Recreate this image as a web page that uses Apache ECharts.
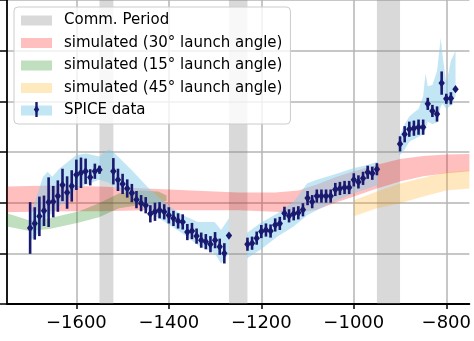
<!DOCTYPE html>
<html>
<head>
<meta charset="utf-8">
<script src="https://cdn.jsdelivr.net/npm/echarts@6/dist/echarts.min.js"></script>
<style>
  html, body { margin: 0; padding: 0; background: #fff; }
  #chart { width: 474px; height: 341px; }
</style>
</head>
<body>
<div id="chart"></div>
<script>
// Communication blackout windows (x ranges)
const commPeriods = [[-1550, -1520], [-1270, -1230], [-950, -900]];

// Simulated envelopes: x, lower edge, upper edge
const sim30X    = [-1750, -1650, -1550, -1450, -1350, -1250, -1170, -1120, -1080, -1040, -1000, -950, -900, -850, -800, -750];
const sim30Low  = [1.81, 1.83, 1.83, 1.85, 1.85, 1.85, 1.82, 1.80, 1.86, 2.00, 2.12, 2.28, 2.42, 2.52, 2.58, 2.62];
const sim30High = [2.32, 2.34, 2.32, 2.28, 2.24, 2.20, 2.20, 2.24, 2.36, 2.50, 2.62, 2.75, 2.86, 2.92, 2.95, 2.96];

const sim15X    = [-1750, -1701, -1658, -1594, -1551, -1508, -1465, -1423, -1405];
const sim15Low  = [1.53, 1.44, 1.48, 1.61, 1.71, 1.89, 1.95, 1.99, 2.04];
const sim15High = [1.79, 1.65, 1.69, 1.83, 1.99, 2.18, 2.24, 2.22, 2.14];

const sim45X    = [-1000, -950, -900, -850, -800, -750];
const sim45Low  = [1.73, 1.89, 1.99, 2.12, 2.24, 2.28];
const sim45High = [2.05, 2.22, 2.38, 2.49, 2.60, 2.64];

// SPICE uncertainty envelope, one list per continuous stretch
const bandAX    = [-1700, -1686, -1672, -1662, -1652, -1636, -1622, -1600, -1579, -1551, -1530, -1520, -1480, -1444, -1408, -1372, -1337, -1301, -1287, -1270];
const bandALow  = [1.25, 1.35, 1.55, 1.75, 1.78, 1.95, 2.00, 2.30, 2.35, 2.45, 2.40, 2.32, 2.12, 1.82, 1.62, 1.40, 1.16, 1.00, 0.80, 1.00];
const bandAHigh = [1.75, 2.12, 2.51, 2.61, 2.51, 2.68, 2.78, 2.94, 2.97, 2.91, 3.05, 3.00, 2.64, 2.29, 1.99, 1.76, 1.62, 1.62, 1.46, 1.69];

const bandBX    = [-1231, -1202, -1165, -1130, -1101, -1080, -1044, -1001, -973, -948];
const bandBLow  = [0.90, 1.07, 1.33, 1.53, 1.75, 1.85, 2.02, 2.18, 2.27, 2.35];
const bandBHigh = [1.40, 1.60, 1.79, 2.02, 2.38, 2.45, 2.55, 2.68, 2.74, 2.81];

const bandCX    = [-902, -890, -880, -870, -860, -850, -845, -840, -830, -820, -812, -808, -800, -790, -780];
const bandCLow  = [2.92, 3.05, 3.20, 3.25, 3.30, 3.35, 3.45, 3.60, 3.55, 3.58, 3.90, 3.95, 3.85, 3.92, 4.10];
const bandCHigh = [3.30, 3.55, 3.70, 3.78, 3.85, 4.10, 4.55, 4.30, 4.32, 4.60, 5.25, 4.90, 4.35, 4.80, 5.00];

// SPICE measurements with error bars (0 = no bar)
const spiceX = [
  -1700, -1690, -1680, -1670, -1660, -1650, -1640, -1630, -1620, -1610, -1600, -1590, -1580, -1570, -1560, -1550,
  -1520, -1510, -1500, -1490, -1480, -1470, -1460, -1450, -1440, -1430, -1420, -1410, -1400, -1390, -1380, -1370,
  -1360, -1350, -1340, -1330, -1320, -1310, -1300, -1290, -1280, -1270,
  -1230, -1220, -1210, -1200, -1190, -1180, -1170, -1160, -1150, -1140, -1130, -1120, -1110, -1100, -1090, -1080,
  -1070, -1060, -1050, -1040, -1030, -1020, -1010, -1000, -990, -980, -970, -960, -950,
  -900, -890, -880, -870, -860, -850, -840, -830, -820, -810, -800, -790, -780
];
const spiceY = [
  1.50, 1.59, 1.73, 1.84, 2.01, 2.02, 2.13, 2.35, 2.20, 2.33, 2.55, 2.59, 2.62, 2.50, 2.62, 2.65,
  2.62, 2.45, 2.37, 2.28, 2.19, 2.06, 1.99, 1.95, 1.78, 1.82, 1.85, 1.82, 1.75, 1.69, 1.64, 1.62,
  1.42, 1.44, 1.34, 1.26, 1.23, 1.18, 1.26, 1.13, 1.00, 1.35,
  1.18, 1.20, 1.30, 1.43, 1.46, 1.44, 1.56, 1.59, 1.79, 1.74, 1.78, 1.80, 1.86, 2.09, 2.02, 2.13,
  2.13, 2.13, 2.13, 2.26, 2.28, 2.30, 2.30, 2.45, 2.41, 2.48, 2.60, 2.58, 2.66,
  3.16, 3.35, 3.45, 3.47, 3.49, 3.49, 3.95, 3.81, 3.75, 4.36, 4.05, 4.06, 4.24
];
const spiceErr = [
  0.51, 0.32, 0.39, 0.30, 0.49, 0.31, 0.31, 0.32, 0.32, 0.31, 0.30, 0.30, 0.25, 0.16, 0.15, 0.08,
  0.26, 0.22, 0.20, 0.18, 0.18, 0.17, 0.16, 0.16, 0.17, 0.18, 0.16, 0.15, 0.16, 0.15, 0.15, 0.15,
  0.16, 0.16, 0.15, 0.15, 0.15, 0.16, 0.16, 0.16, 0.20, 0,
  0.13, 0.13, 0.13, 0.13, 0.13, 0.13, 0.13, 0.13, 0.13, 0.13, 0.13, 0.13, 0.13, 0.14, 0.13, 0.13,
  0.13, 0.13, 0.13, 0.13, 0.13, 0.13, 0.13, 0.13, 0.13, 0.13, 0.13, 0.13, 0.12,
  0.15, 0.16, 0.15, 0.15, 0.15, 0.15, 0.12, 0.12, 0.15, 0.23, 0.10, 0.12, 0
];

const xTicks = [-1600, -1400, -1200, -1000, -800];

const COLORS = {
  comm: 'rgba(128,128,128,0.3)',
  sim30: 'rgba(255,0,0,0.25)',
  sim15: 'rgba(0,128,0,0.25)',
  sim45: 'rgba(255,165,0,0.25)',
  spiceBand: 'rgba(135,206,235,0.5)',
  spice: '#191970'
};

const zipRows = (xs, lo, hi) => xs.map((x, i) => [x, lo[i], hi[i]]);

// One filled polygon per envelope, drawn through the axis scales
function envelopeSeries(name, rows, color, z) {
  return {
    type: 'custom',
    name: name,
    coordinateSystem: 'cartesian2d',
    data: rows,
    encode: { x: 0, y: [1, 2] },
    itemStyle: { color: color },
    silent: true,
    z: z,
    renderItem: function (params, api) {
      if (params.dataIndex !== 0) return;
      const upper = rows.map(r => api.coord([r[0], r[2]]));
      const lower = rows.map(r => api.coord([r[0], r[1]])).reverse();
      return {
        type: 'polygon',
        shape: { points: upper.concat(lower) },
        style: { fill: color }
      };
    }
  };
}

const spiceRows = spiceX.map((x, i) => [x, spiceY[i], spiceErr[i]]);

const chart = echarts.init(document.getElementById('chart'), null, { renderer: 'canvas' });

const fmt = v => (v < 0 ? '\u2212' : '') + Math.abs(v);

chart.setOption({
  animation: false,
  backgroundColor: '#fff',
  grid: { left: 7, right: 0, top: -1, bottom: 37, containLabel: false },
  xAxis: {
    type: 'value',
    min: -1750,
    max: -750,
    axisLine: { show: true, onZero: false, lineStyle: { color: '#000', width: 1.8 } },
    axisTick: { show: true, length: 5, customValues: xTicks, lineStyle: { color: '#000', width: 1.5 } },
    axisLabel: {
      customValues: xTicks,
      formatter: fmt,
      fontFamily: 'DejaVu Sans',
      fontSize: 18,
      color: '#000',
      margin: 10
    },
    splitLine: { show: true, lineStyle: { color: '#b4b4b4', width: 1.5 } }
  },
  yAxis: {
    type: 'value',
    min: 0,
    max: 6,
    interval: 1,
    axisLine: { show: true, onZero: false, lineStyle: { color: '#000', width: 1.8 } },
    axisTick: { show: true, length: 7, lineStyle: { color: '#000', width: 1.5 } },
    axisLabel: { show: false },
    splitLine: { show: true, lineStyle: { color: '#b4b4b4', width: 1.5 } }
  },
  legend: {
    orient: 'vertical',
    left: 14,
    top: 7,
    padding: [6, 8, 6, 7],
    itemGap: 7.5,
    itemWidth: 31,
    itemHeight: 10,
    backgroundColor: 'rgba(255,255,255,0.8)',
    borderColor: '#cccccc',
    borderWidth: 1,
    borderRadius: 4,
    selectedMode: false,
    textStyle: { fontFamily: 'DejaVu Sans', fontSize: 15, color: '#000', padding: [0, 0, 0, 7] },
    data: [
      { name: 'Comm. Period', icon: 'rect', itemStyle: { color: '#d9d9d9' } },
      { name: 'simulated (30° launch angle)', icon: 'rect', itemStyle: { color: '#ffbfbf' } },
      { name: 'simulated (15° launch angle)', icon: 'rect', itemStyle: { color: '#bfdfbf' } },
      { name: 'simulated (45° launch angle)', icon: 'rect', itemStyle: { color: '#ffe9bf' } },
      { name: 'SPICE data', icon: 'rect', itemStyle: { color: '#c3e6f5' } }
    ]
  },
  graphic: [
    // error-bar glyph on the SPICE legend swatch
    { type: 'line', z: 100, shape: { x1: 36.5, y1: 102, x2: 36.5, y2: 117 }, style: { stroke: COLORS.spice, lineWidth: 2.4 } },
    { type: 'polygon', z: 100, shape: { points: [[36.5, 105.5], [39.2, 109.5], [36.5, 113.5], [33.8, 109.5]] }, style: { fill: COLORS.spice } }
  ],
  series: [
    {
      type: 'line',
      name: 'Comm. Period',
      data: [],
      itemStyle: { color: '#d9d9d9' },
      z: 1,
      markArea: {
        silent: true,
        itemStyle: { color: COLORS.comm },
        data: commPeriods.map(p => [{ xAxis: p[0] }, { xAxis: p[1] }])
      }
    },
    envelopeSeries('simulated (30° launch angle)', zipRows(sim30X, sim30Low, sim30High), COLORS.sim30, 2),
    envelopeSeries('simulated (15° launch angle)', zipRows(sim15X, sim15Low, sim15High), COLORS.sim15, 2),
    envelopeSeries('simulated (45° launch angle)', zipRows(sim45X, sim45Low, sim45High), COLORS.sim45, 2),
    envelopeSeries('SPICE data', zipRows(bandAX, bandALow, bandAHigh), COLORS.spiceBand, 3),
    envelopeSeries('SPICE data', zipRows(bandBX, bandBLow, bandBHigh), COLORS.spiceBand, 3),
    envelopeSeries('SPICE data', zipRows(bandCX, bandCLow, bandCHigh), COLORS.spiceBand, 3),
    {
      type: 'custom',
      name: 'SPICE data',
      coordinateSystem: 'cartesian2d',
      data: spiceRows,
      encode: { x: 0, y: 1 },
      itemStyle: { color: COLORS.spice },
      z: 4,
      renderItem: function (params, api) {
        const x = api.value(0), y = api.value(1), e = api.value(2);
        const c = api.coord([x, y]);
        const children = [];
        if (e > 0) {
          const top = api.coord([x, y + e]);
          const bot = api.coord([x, y - e]);
          children.push({
            type: 'line',
            shape: { x1: c[0], y1: top[1], x2: c[0], y2: bot[1] },
            style: { stroke: COLORS.spice, lineWidth: 2.6 }
          });
        }
        children.push({
          type: 'polygon',
          shape: { points: [[c[0], c[1] - 4.2], [c[0] + 3.2, c[1]], [c[0], c[1] + 4.2], [c[0] - 3.2, c[1]]] },
          style: { fill: COLORS.spice }
        });
        return { type: 'group', children: children };
      }
    }
  ]
});
</script>
</body>
</html>
